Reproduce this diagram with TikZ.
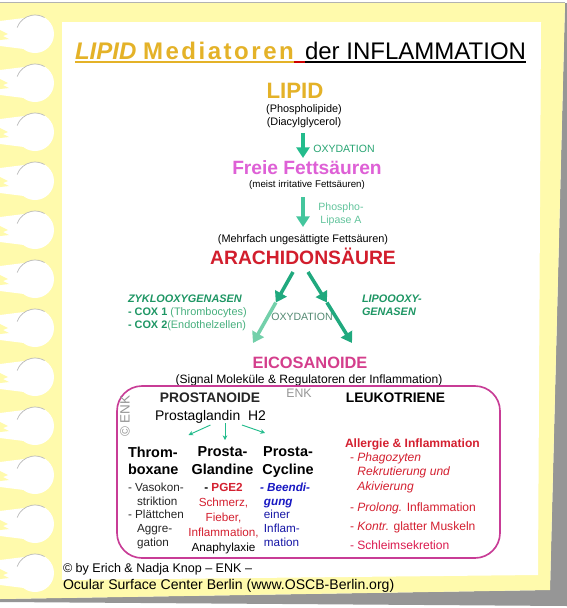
\documentclass[tikz,border=0pt]{standalone}
\usepackage{fontspec}
\setmainfont{Liberation Sans}
\usetikzlibrary{arrows.meta, positioning, calc}

\definecolor{paperyellow}{RGB}{255,250,172}
\definecolor{shadowgray}{RGB}{150,150,150}
\definecolor{titlegold}{RGB}{228,178,40}
\definecolor{arrowgreen}{RGB}{35,188,140}
\definecolor{palegreen}{RGB}{115,208,170}
\definecolor{enzgreen}{RGB}{30,150,100}
\definecolor{lightgreen}{RGB}{70,175,125}
\definecolor{oxgreen}{RGB}{40,165,115}
\definecolor{fettpink}{RGB}{222,96,214}
\definecolor{arared}{RGB}{210,30,45}
\definecolor{eicopink}{RGB}{212,62,140}
\definecolor{boxpink}{RGB}{200,60,150}
\definecolor{leukred}{RGB}{212,32,48}
\definecolor{endblue}{RGB}{25,25,195}
\definecolor{enkgray}{RGB}{150,150,150}

\newcommand{\setfs}[2]{\fontsize{#1}{#2}\selectfont}

\begin{document}
\begin{tikzpicture}[x=0.03cm, y=-0.03cm,
  lbl/.style={inner sep=0pt, outer sep=0pt},
  flowarrow/.style={line width=3pt, draw=arrowgreen, -{Triangle[length=9pt, width=11pt]}},
  forkarrow/.style={line width=0.8pt, draw=arrowgreen, -{Stealth[length=4pt, width=4pt]}},
  enzyme/.style={lbl, font=\bfseries\itshape\setfs{9.3pt}{11pt}, text=enzgreen, align=left, anchor=north west},
  colhead/.style={lbl, font=\bfseries\setfs{12.3pt}{15.3pt}, anchor=north},
  colbody/.style={lbl, font=\setfs{10pt}{11.9pt}, anchor=north},
  leukitem/.style={lbl, font=\setfs{10.3pt}{12.3pt}, text=leukred, anchor=base west}
]
\useasboundingbox (0,0) rectangle (567,608);
\fill[white] (0,0) rectangle (567,608);

% paper, shadow and holes
\fill[shadowgray] (0,599) -- (550,590) -- (565,3) -- (567,3) -- (567,606) -- (0,602) -- cycle;
\fill[paperyellow] (0,3) -- (565,3) -- (550,590) -- (0,599) -- cycle;
\draw[gray!60, line width=0.5pt] (0,2.5) -- (565,2.5);
\fill[white] (62,22) -- (541,22) -- (538,575) -- (62,580) -- cycle;
\foreach \hy in {34,83,...,573} {
  \fill[white] (35,\hy) circle[radius=19];
  \fill[white] (0,\hy-13) -- (24,\hy-16) -- (24,\hy+15) -- (0,\hy+12) -- cycle;
  \fill[paperyellow] (0,\hy-4) -- (8,\hy) -- (3,\hy+2) -- (9,\hy+5) -- (0,\hy+6) -- cycle;
  \draw[gray!55, line width=0.6pt] ($(35,\hy)+(200:19)$) arc[start angle=200, end angle=300, radius=19];
}

% title
\node[lbl, anchor=base west, font=\bfseries\setfs{20.5pt}{24pt}, text=titlegold] (titA) at (75,59)
  {\textit{LIPID} {\addfontfeature{LetterSpace=10.5}Mediatoren}};
\node[lbl, anchor=base west, font=\setfs{20.5pt}{24pt}] (titB) at (305,59) {der INFLAMMATION};
\draw[titlegold, line width=1.6pt] ([yshift=-2.5pt]titA.base west) -- ([yshift=-2.5pt]titA.base east);
\draw[red!80!black, line width=1.6pt] ([yshift=-2.5pt]titA.base east) -- ([yshift=-2.5pt]titB.base west);
\draw[black, line width=1.3pt] ([yshift=-2.5pt]titB.base west) -- ([yshift=-2.5pt]titB.base east);

% cascade
\node[lbl, anchor=base, font=\bfseries\setfs{19pt}{22pt}, text=titlegold] (lipid) at (295,98) {LIPID};
\node[lbl, anchor=base, font=\setfs{9.3pt}{11pt}] (phos) at (304,112) {(Phospholipide)};
\node[lbl, anchor=base, font=\setfs{9.3pt}{11pt}] (diacyl) at (304,125) {(Diacylglycerol)};
\node[lbl, anchor=base, font=\setfs{9pt}{11pt}, text=oxgreen] (oxy1) at (344,152) {OXYDATION};
\node[lbl, anchor=base, font=\bfseries\setfs{16.4pt}{19pt}, text=fettpink] (freie) at (307,174) {Freie Fettsäuren};
\node[lbl, anchor=base, font=\setfs{8.3pt}{10pt}] (meist) at (307,187.5) {(meist irritative Fettsäuren)};
\node[lbl, anchor=north, align=center, font=\setfs{9pt}{11pt}, text=palegreen!80!enzgreen] (lipase) at (341,202.5) {Phospho-\\Lipase A};
\node[lbl, anchor=base, font=\setfs{9.3pt}{11pt}] (mehr) at (303,242) {(Mehrfach ungesättigte Fettsäuren)};
\node[lbl, anchor=base, font=\bfseries\setfs{16.5pt}{19pt}, text=arared] (arach) at (303,264) {ARACHIDONSÄURE};

\node[enzyme] (zyklo) at (128,295)
  {ZYKLOOXYGENASEN\\
   \upshape - COX 1 {\mdseries\color{lightgreen}(Thrombocytes)}\\
   \upshape - COX 2{\mdseries\color{lightgreen}(Endothelzellen)}};
\node[enzyme] (lipoxy) at (362,295) {LIPOOOXY-\\GENASEN};
\node[lbl, anchor=base, font=\setfs{9pt}{11pt}, text=gray!55!enzgreen] (oxy2) at (302,320) {OXYDATION};

\node[lbl, anchor=base, font=\bfseries\setfs{14pt}{17pt}, text=eicopink] (eico) at (310,368) {EICOSANOIDE};
\node[lbl, anchor=base, font=\setfs{10.3pt}{12pt}] (signal) at (309,383) {(Signal Moleküle \& Regulatoren der Inflammation)};

\draw[flowarrow] ($(diacyl.base)+(-1,8)$) -- ($(freie.base)+(-4,-16)$);
\draw[flowarrow, draw=arrowgreen!85!white] ($(meist.base)+(-4,9.5)$) -- ($(mehr.base)+(0,-15)$);

\coordinate (lstart) at ($(arach.base)+(-10,8)$);
\coordinate (lend) at ($(eico.base)+(-57,-25)$);
\coordinate (lmid) at ($(lstart)!0.43!(lend)$);
\coordinate (rstart) at ($(arach.base)+(5,8)$);
\coordinate (rend) at ($(eico.base)+(42,-25)$);
\coordinate (rmid) at ($(rstart)!0.43!(rend)$);
\draw[flowarrow, draw=arrowgreen!90!black] (lstart) -- (lmid);
\draw[flowarrow, draw=palegreen] (lmid) -- (lend);
\draw[flowarrow, draw=arrowgreen!90!black] (rstart) -- (rmid);
\draw[flowarrow, draw=arrowgreen!90!black] (rmid) -- (rend);

% eicosanoid box
\draw[boxpink, line width=1.4pt, rounded corners=0.75cm] (117,386) rectangle (500,558);
\node[lbl, rotate=90, font=\setfs{11.5pt}{13pt}, text=enkgray] (cenk) at (125,416) {© ENK};
\node[lbl, anchor=base, font=\bfseries\setfs{11.8pt}{14pt}, text=black!85] (prostan) at (210,402) {PROSTANOIDE};
\node[lbl, anchor=base, font=\setfs{10.5pt}{12pt}, text=enkgray] (enk) at (299,397.5) {ENK};
\node[lbl, anchor=base, font=\setfs{11.9pt}{14pt}] (ph2) at (210.5,420) {Prostaglandin\ \ H2};
\node[lbl, anchor=base, font=\bfseries\setfs{11.8pt}{14pt}] (leuko) at (395.5,402) {LEUKOTRIENE};

\draw[forkarrow] ($(ph2.base)+(0,5)$) -- ($(ph2.base)+(-22,15)$);
\draw[forkarrow] ($(ph2.base)+(14.5,3)$) -- ($(ph2.base)+(14.5,20)$);
\draw[forkarrow] ($(ph2.base)+(31.5,5)$) -- ($(ph2.base)+(54.5,13)$);

\node[colhead, anchor=north west, align=left] (throm) at (128,446.6) {Throm-\\boxane};
\node[colhead, align=center] (pgl) at (222.5,446.6) {Prosta-\\Glandine};
\node[colhead, align=center] (pcy) at (288,446.6) {Prosta-\\Cycline};

\node[colbody, anchor=north west, align=left, text=black!85] (vaso) at (128,482.6)
  {- Vasokon-\\\hspace*{7.7pt}striktion\\- Plättchen\\\hspace*{7.7pt}Aggre-\\\hspace*{7.7pt}gation};
\node[colbody, align=center, font=\setfs{10pt}{12.7pt}, text=leukred] (pge) at (223.5,483.5)
  {{\bfseries\color{black}- }{\bfseries PGE2}\\Schmerz,\\Fieber,\\Inflammation,\\{\color{black}Anaphylaxie}};
\node[colbody, anchor=north west, align=left, text=endblue!85!black] (beend) at (260,482.6)
  {{\bfseries\itshape\color{endblue} - Beendi-}\\\hspace*{3.4pt}{\bfseries\itshape\color{endblue}gung}\\\hspace*{3.4pt}einer\\\hspace*{3.4pt}Inflam-\\\hspace*{3.4pt}mation};

\node[lbl, anchor=base west, font=\bfseries\setfs{10.3pt}{12pt}, text=leukred] (allerg) at (345,447) {Allergie \& Inflammation};
\node[leukitem, anchor=north west, align=left] (phago) at (350,452.6)
  {- \textit{Phagozyten}\\\hspace*{6.3pt}\textit{Rekrutierung und}\\\hspace*{6.3pt}\textit{Akivierung}};
\node[leukitem] (prolong) at (350,511.5) {- \textit{Prolong.} Inflammation};
\node[leukitem] (kontr) at (350,530.5) {- \textit{Kontr.} glatter Muskeln};
\node[leukitem, text=leukred!85!magenta] (schleim) at (350,549.5) {- Schleimsekretion};

% credits
\node[lbl, anchor=base west, font=\setfs{10.7pt}{12pt}] (copy) at (63,572) {© by Erich \& Nadja Knop – ENK –};
\node[lbl, anchor=base west, font=\setfs{12pt}{14pt}] (oscb) at (63,589) {Ocular Surface Center Berlin (www.OSCB-Berlin.org)};
\end{tikzpicture}
\end{document}
